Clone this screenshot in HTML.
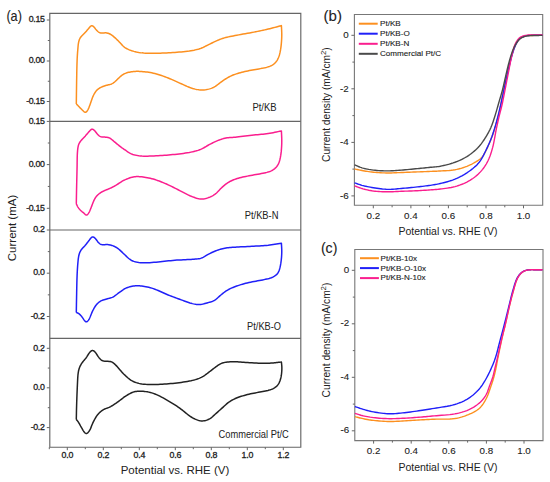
<!DOCTYPE html>
<html><head><meta charset="utf-8"><style>
html,body{margin:0;padding:0;background:#fff;}
body{width:550px;height:482px;overflow:hidden;}
svg{display:block;}
text{font-family:"Liberation Sans",sans-serif;fill:#222;}
.tl{font-size:8.8px;text-anchor:end;stroke:#222;stroke-width:0.3px;letter-spacing:-0.35px;}
.tb{font-size:8.8px;text-anchor:middle;stroke:#222;stroke-width:0.3px;letter-spacing:-0.2px;}
.tl2{font-size:9.8px;text-anchor:end;stroke:#222;stroke-width:0.1px;}
.tb2{font-size:9.8px;text-anchor:middle;stroke:#222;stroke-width:0.1px;}
.ttl{font-size:11.5px;text-anchor:middle;}
.ttl2{font-size:10.5px;text-anchor:middle;}
.ttl3{font-size:10.2px;text-anchor:middle;}
.pl{font-size:14.5px;stroke:#222;stroke-width:0.1px;}
.cal{font-size:10.5px;fill:#222;}
.lg{font-size:8.1px;fill:#222;stroke:#222;stroke-width:0.12px;}
</style></head>
<body><svg width="550" height="482" viewBox="0 0 550 482">
<path d="M49.8,447.2 V13.4 H300.8 V447.2 Z" fill="none" stroke="#666" stroke-width="1.15"/>
<path d="M49.8,121.4 H300.8" stroke="#666" stroke-width="1.15"/>
<path d="M49.8,230.0 H300.8" stroke="#666" stroke-width="1.15"/>
<path d="M49.8,338.4 H300.8" stroke="#666" stroke-width="1.15"/>
<path d="M46.8,20.0 H49.8" stroke="#666" stroke-width="1"/>
<path d="M46.8,61.0 H49.8" stroke="#666" stroke-width="1"/>
<path d="M46.8,101.5 H49.8" stroke="#666" stroke-width="1"/>
<path d="M47.8,40.5 H49.8" stroke="#666" stroke-width="1"/>
<path d="M47.8,81.25 H49.8" stroke="#666" stroke-width="1"/>
<path d="M46.8,121.4 H49.8" stroke="#666" stroke-width="1"/>
<path d="M46.8,164.6 H49.8" stroke="#666" stroke-width="1"/>
<path d="M46.8,208.3 H49.8" stroke="#666" stroke-width="1"/>
<path d="M47.8,143.0 H49.8" stroke="#666" stroke-width="1"/>
<path d="M47.8,186.45 H49.8" stroke="#666" stroke-width="1"/>
<path d="M46.8,230.0 H49.8" stroke="#666" stroke-width="1"/>
<path d="M46.8,273.2 H49.8" stroke="#666" stroke-width="1"/>
<path d="M46.8,316.5 H49.8" stroke="#666" stroke-width="1"/>
<path d="M47.8,251.6 H49.8" stroke="#666" stroke-width="1"/>
<path d="M47.8,294.85 H49.8" stroke="#666" stroke-width="1"/>
<path d="M46.8,348.3 H49.8" stroke="#666" stroke-width="1"/>
<path d="M46.8,387.8 H49.8" stroke="#666" stroke-width="1"/>
<path d="M46.8,427.6 H49.8" stroke="#666" stroke-width="1"/>
<path d="M47.8,368.05 H49.8" stroke="#666" stroke-width="1"/>
<path d="M47.8,407.70000000000005 H49.8" stroke="#666" stroke-width="1"/>
<text x="44.5" y="22.2" class="tl">0.15</text>
<text x="44.5" y="63.2" class="tl">0.00</text>
<text x="44.5" y="103.7" class="tl">-0.15</text>
<text x="44.5" y="123.60000000000001" class="tl">0.15</text>
<text x="44.5" y="166.79999999999998" class="tl">0.00</text>
<text x="44.5" y="210.5" class="tl">-0.15</text>
<text x="44.5" y="232.2" class="tl">0.2</text>
<text x="44.5" y="275.4" class="tl">0.0</text>
<text x="44.5" y="318.7" class="tl">-0.2</text>
<text x="44.5" y="350.5" class="tl">0.2</text>
<text x="44.5" y="390.0" class="tl">0.0</text>
<text x="44.5" y="429.8" class="tl">-0.2</text>
<path d="M67.3,447.2 V450.2" stroke="#666" stroke-width="1"/>
<text x="67.4" y="457.8" class="tb">0.0</text>
<path d="M103.3,447.2 V450.2" stroke="#666" stroke-width="1"/>
<text x="103.4" y="457.8" class="tb">0.2</text>
<path d="M139.3,447.2 V450.2" stroke="#666" stroke-width="1"/>
<text x="139.4" y="457.8" class="tb">0.4</text>
<path d="M175.3,447.2 V450.2" stroke="#666" stroke-width="1"/>
<text x="175.4" y="457.8" class="tb">0.6</text>
<path d="M211.3,447.2 V450.2" stroke="#666" stroke-width="1"/>
<text x="211.4" y="457.8" class="tb">0.8</text>
<path d="M247.3,447.2 V450.2" stroke="#666" stroke-width="1"/>
<text x="247.4" y="457.8" class="tb">1.0</text>
<path d="M283.3,447.2 V450.2" stroke="#666" stroke-width="1"/>
<text x="283.4" y="457.8" class="tb">1.2</text>
<path d="M49.3,447.2 V449.2" stroke="#666" stroke-width="1"/>
<path d="M85.3,447.2 V449.2" stroke="#666" stroke-width="1"/>
<path d="M121.3,447.2 V449.2" stroke="#666" stroke-width="1"/>
<path d="M157.3,447.2 V449.2" stroke="#666" stroke-width="1"/>
<path d="M193.3,447.2 V449.2" stroke="#666" stroke-width="1"/>
<path d="M229.3,447.2 V449.2" stroke="#666" stroke-width="1"/>
<path d="M265.3,447.2 V449.2" stroke="#666" stroke-width="1"/>
<text x="175" y="474.3" class="ttl">Potential vs. RHE (V)</text>
<text transform="translate(15.6,228) rotate(-90)" class="ttl">Current (mA)</text>
<text x="6.4" y="21.3" class="pl" textLength="15.5" lengthAdjust="spacingAndGlyphs">(a)</text>
<text x="252.4" y="111.1" class="cal" textLength="24.2" lengthAdjust="spacingAndGlyphs">Pt/KB</text>
<text x="244.7" y="218.9" class="cal" textLength="33.8" lengthAdjust="spacingAndGlyphs">Pt/KB-N</text>
<text x="247.1" y="329.9" class="cal" textLength="33.9" lengthAdjust="spacingAndGlyphs">Pt/KB-O</text>
<text x="218.5" y="437.6" class="cal" textLength="70.3" lengthAdjust="spacingAndGlyphs">Commercial Pt/C</text>
<path d="M76.30,103.90 L76.34,101.27 L76.37,98.65 L76.41,96.02 L76.44,93.39 L76.48,90.75 L76.52,88.09 L76.56,85.39 L76.60,82.64 L76.65,79.81 L76.70,76.91 L76.75,73.98 L76.80,71.06 L76.87,68.20 L76.94,65.46 L77.01,62.93 L77.10,60.67 L77.18,58.68 L77.27,56.92 L77.37,55.33 L77.47,53.84 L77.57,52.42 L77.67,51.08 L77.78,49.82 L77.88,48.66 L77.97,47.61 L78.05,46.66 L78.14,45.77 L78.22,44.93 L78.32,44.12 L78.43,43.34 L78.56,42.61 L78.71,41.91 L78.87,41.27 L79.04,40.67 L79.22,40.10 L79.41,39.56 L79.63,39.03 L79.88,38.51 L80.16,38.00 L80.49,37.49 L80.85,36.99 L81.27,36.49 L81.72,36.01 L82.20,35.52 L82.70,35.04 L83.20,34.56 L83.70,34.07 L84.19,33.57 L84.68,33.05 L85.16,32.52 L85.64,31.99 L86.12,31.44 L86.59,30.90 L87.06,30.36 L87.52,29.83 L87.97,29.30 L88.41,28.77 L88.83,28.23 L89.25,27.70 L89.67,27.20 L90.08,26.74 L90.47,26.35 L90.86,26.06 L91.21,25.87 L91.54,25.77 L91.85,25.76 L92.13,25.80 L92.41,25.89 L92.69,26.02 L92.97,26.18 L93.25,26.37 L93.55,26.61 L93.87,26.89 L94.19,27.24 L94.52,27.63 L94.86,28.05 L95.19,28.49 L95.52,28.93 L95.86,29.35 L96.19,29.75 L96.52,30.13 L96.85,30.49 L97.19,30.83 L97.52,31.16 L97.86,31.47 L98.20,31.76 L98.54,32.01 L98.88,32.24 L99.21,32.42 L99.54,32.58 L99.87,32.71 L100.20,32.81 L100.54,32.90 L100.90,32.97 L101.28,33.03 L101.70,33.06 L102.16,33.06 L102.66,33.04 L103.20,33.00 L103.75,32.94 L104.31,32.88 L104.87,32.85 L105.44,32.84 L106.00,32.87 L106.56,32.93 L107.12,33.04 L107.67,33.17 L108.23,33.33 L108.78,33.52 L109.32,33.74 L109.87,33.98 L110.41,34.26 L110.95,34.57 L111.49,34.92 L112.03,35.29 L112.56,35.70 L113.09,36.13 L113.64,36.59 L114.20,37.08 L114.80,37.61 L115.43,38.18 L116.09,38.80 L116.77,39.46 L117.47,40.14 L118.16,40.84 L118.84,41.52 L119.49,42.19 L120.11,42.83 L120.69,43.45 L121.24,44.04 L121.77,44.62 L122.29,45.19 L122.81,45.74 L123.37,46.27 L123.97,46.79 L124.63,47.30 L125.36,47.79 L126.14,48.26 L126.98,48.72 L127.85,49.16 L128.76,49.57 L129.71,49.96 L130.69,50.33 L131.72,50.70 L132.81,51.05 L133.95,51.38 L135.14,51.69 L136.36,51.98 L137.64,52.24 L138.97,52.47 L140.41,52.68 L141.98,52.87 L143.72,53.02 L145.60,53.13 L147.60,53.21 L149.68,53.25 L151.80,53.26 L153.93,53.25 L156.06,53.22 L158.17,53.19 L160.26,53.14 L162.35,53.07 L164.43,53.00 L166.50,52.90 L168.58,52.79 L170.66,52.67 L172.74,52.53 L174.84,52.39 L176.95,52.23 L179.07,52.06 L181.20,51.88 L183.32,51.68 L185.40,51.46 L187.40,51.23 L189.29,50.98 L191.02,50.71 L192.60,50.44 L194.04,50.17 L195.38,49.88 L196.66,49.58 L197.88,49.26 L199.06,48.92 L200.17,48.57 L201.22,48.20 L202.18,47.82 L203.08,47.44 L203.92,47.04 L204.73,46.62 L205.54,46.20 L206.37,45.76 L207.24,45.31 L208.17,44.83 L209.18,44.33 L210.26,43.80 L211.38,43.26 L212.53,42.71 L213.68,42.17 L214.81,41.64 L215.90,41.14 L216.94,40.68 L217.90,40.26 L218.81,39.88 L219.67,39.51 L220.53,39.17 L221.40,38.84 L222.31,38.52 L223.30,38.19 L224.41,37.86 L225.65,37.53 L227.01,37.20 L228.47,36.87 L230.00,36.55 L231.59,36.24 L233.24,35.92 L234.97,35.59 L236.81,35.25 L238.77,34.88 L240.85,34.50 L243.02,34.11 L245.24,33.71 L247.47,33.31 L249.68,32.91 L251.82,32.52 L253.87,32.13 L255.82,31.75 L257.68,31.38 L259.49,31.01 L261.26,30.64 L263.01,30.26 L264.74,29.88 L266.46,29.49 L268.16,29.09 L269.85,28.67 L271.52,28.25 L273.18,27.82 L274.83,27.38 L276.47,26.94 L278.11,26.49 L279.76,26.05 L281.40,25.60 L281.40,25.60 L281.47,26.91 L281.54,28.21 L281.61,29.51 L281.67,30.83 L281.72,32.15 L281.76,33.51 L281.77,34.93 L281.75,36.44 L281.70,38.06 L281.61,39.76 L281.50,41.53 L281.35,43.33 L281.18,45.11 L280.98,46.84 L280.75,48.48 L280.51,49.99 L280.25,51.37 L279.99,52.64 L279.71,53.83 L279.41,54.96 L279.07,56.04 L278.71,57.07 L278.31,58.05 L277.88,58.96 L277.43,59.79 L276.95,60.57 L276.45,61.30 L275.92,61.98 L275.35,62.63 L274.75,63.24 L274.10,63.81 L273.41,64.35 L272.68,64.84 L271.89,65.30 L271.06,65.71 L270.19,66.09 L269.28,66.44 L268.31,66.77 L267.26,67.10 L266.11,67.42 L264.84,67.74 L263.46,68.05 L261.98,68.34 L260.44,68.62 L258.86,68.89 L257.28,69.16 L255.69,69.43 L254.11,69.72 L252.54,70.01 L250.97,70.31 L249.40,70.61 L247.84,70.93 L246.29,71.25 L244.76,71.59 L243.26,71.94 L241.80,72.31 L240.38,72.69 L239.00,73.07 L237.66,73.48 L236.33,73.90 L235.03,74.34 L233.74,74.81 L232.49,75.31 L231.26,75.85 L230.06,76.42 L228.89,77.03 L227.74,77.67 L226.62,78.33 L225.52,79.01 L224.44,79.70 L223.40,80.39 L222.39,81.08 L221.43,81.78 L220.50,82.47 L219.60,83.17 L218.73,83.86 L217.86,84.53 L217.02,85.16 L216.20,85.75 L215.41,86.27 L214.66,86.73 L213.94,87.13 L213.25,87.48 L212.56,87.81 L211.86,88.11 L211.14,88.39 L210.37,88.65 L209.55,88.90 L208.66,89.14 L207.71,89.36 L206.71,89.57 L205.68,89.74 L204.63,89.88 L203.55,89.97 L202.44,90.02 L201.31,90.01 L200.14,89.94 L198.94,89.81 L197.71,89.63 L196.46,89.40 L195.20,89.12 L193.93,88.79 L192.63,88.42 L191.30,88.00 L189.93,87.52 L188.53,86.98 L187.10,86.40 L185.66,85.77 L184.21,85.11 L182.74,84.44 L181.24,83.76 L179.70,83.06 L178.12,82.35 L176.51,81.62 L174.87,80.89 L173.21,80.15 L171.54,79.41 L169.86,78.70 L168.19,78.01 L166.51,77.35 L164.84,76.72 L163.17,76.12 L161.50,75.54 L159.83,75.00 L158.17,74.48 L156.52,74.00 L154.89,73.57 L153.30,73.19 L151.75,72.85 L150.24,72.56 L148.75,72.32 L147.28,72.10 L145.83,71.92 L144.42,71.77 L143.07,71.64 L141.80,71.54 L140.60,71.46 L139.47,71.40 L138.40,71.37 L137.35,71.35 L136.33,71.36 L135.32,71.39 L134.32,71.45 L133.33,71.54 L132.34,71.65 L131.37,71.79 L130.41,71.95 L129.47,72.14 L128.55,72.35 L127.66,72.58 L126.83,72.83 L126.05,73.10 L125.35,73.37 L124.71,73.65 L124.10,73.95 L123.53,74.26 L122.97,74.59 L122.40,74.96 L121.81,75.38 L121.19,75.85 L120.54,76.39 L119.85,77.01 L119.13,77.68 L118.42,78.37 L117.71,79.08 L117.01,79.75 L116.35,80.39 L115.72,80.95 L115.15,81.46 L114.62,81.91 L114.12,82.31 L113.62,82.69 L113.13,83.05 L112.62,83.38 L112.10,83.68 L111.55,83.95 L110.97,84.18 L110.37,84.38 L109.75,84.55 L109.11,84.71 L108.46,84.85 L107.80,85.00 L107.14,85.16 L106.46,85.34 L105.76,85.55 L105.04,85.77 L104.32,86.01 L103.60,86.26 L102.88,86.52 L102.18,86.80 L101.51,87.10 L100.88,87.40 L100.29,87.70 L99.74,88.01 L99.21,88.33 L98.70,88.67 L98.21,89.03 L97.73,89.41 L97.25,89.83 L96.79,90.30 L96.33,90.81 L95.87,91.37 L95.43,91.98 L95.00,92.62 L94.58,93.29 L94.18,93.99 L93.78,94.74 L93.39,95.54 L93.00,96.40 L92.62,97.32 L92.25,98.28 L91.90,99.28 L91.55,100.29 L91.20,101.29 L90.85,102.28 L90.51,103.26 L90.17,104.21 L89.83,105.15 L89.49,106.08 L89.15,106.98 L88.80,107.85 L88.45,108.65 L88.10,109.37 L87.77,109.98 L87.46,110.50 L87.16,110.95 L86.88,111.33 L86.59,111.66 L86.30,111.94 L86.00,112.15 L85.69,112.29 L85.37,112.34 L85.04,112.29 L84.69,112.15 L84.34,111.92 L83.98,111.63 L83.61,111.30 L83.24,110.93 L82.86,110.56 L82.47,110.18 L82.06,109.79 L81.65,109.38 L81.23,108.97 L80.80,108.54 L80.38,108.11 L79.95,107.67 L79.53,107.24 L79.10,106.80 L79.10,106.80 L78.75,106.44 L78.40,106.07 L78.05,105.71 L77.70,105.35 L77.35,104.99 L77.00,104.63 L76.65,104.26 L76.30,103.90" fill="none" stroke="#fc9020" stroke-width="1.5" stroke-linejoin="round"/>
<path d="M76.30,203.80 L76.34,201.83 L76.37,199.86 L76.41,197.89 L76.44,195.91 L76.48,193.91 L76.52,191.86 L76.56,189.71 L76.61,187.44 L76.66,185.01 L76.72,182.45 L76.78,179.78 L76.85,177.08 L76.91,174.38 L76.97,171.76 L77.03,169.26 L77.08,166.94 L77.11,164.80 L77.14,162.81 L77.16,160.93 L77.19,159.14 L77.22,157.41 L77.27,155.77 L77.33,154.24 L77.41,152.84 L77.50,151.59 L77.59,150.45 L77.70,149.40 L77.82,148.42 L77.96,147.49 L78.12,146.62 L78.30,145.82 L78.49,145.12 L78.69,144.51 L78.90,143.98 L79.11,143.50 L79.34,143.06 L79.59,142.64 L79.86,142.22 L80.15,141.79 L80.49,141.34 L80.87,140.86 L81.29,140.37 L81.74,139.87 L82.22,139.36 L82.71,138.85 L83.21,138.33 L83.70,137.81 L84.19,137.28 L84.67,136.74 L85.15,136.20 L85.62,135.64 L86.10,135.09 L86.57,134.53 L87.04,133.98 L87.52,133.43 L88.00,132.88 L88.48,132.32 L88.95,131.76 L89.43,131.20 L89.91,130.66 L90.39,130.17 L90.85,129.77 L91.29,129.47 L91.70,129.29 L92.06,129.21 L92.40,129.21 L92.71,129.29 L93.02,129.42 L93.32,129.59 L93.62,129.79 L93.93,130.03 L94.26,130.32 L94.62,130.66 L94.98,131.07 L95.36,131.52 L95.74,132.01 L96.12,132.51 L96.51,133.01 L96.90,133.49 L97.29,133.94 L97.67,134.37 L98.05,134.77 L98.44,135.15 L98.83,135.51 L99.23,135.84 L99.65,136.14 L100.09,136.40 L100.55,136.62 L101.04,136.78 L101.55,136.89 L102.09,136.97 L102.64,137.01 L103.21,137.03 L103.77,137.05 L104.33,137.08 L104.90,137.11 L105.46,137.16 L106.01,137.20 L106.57,137.26 L107.13,137.32 L107.68,137.41 L108.22,137.53 L108.77,137.69 L109.31,137.90 L109.85,138.17 L110.38,138.49 L110.91,138.86 L111.44,139.27 L111.97,139.71 L112.52,140.18 L113.11,140.68 L113.76,141.22 L114.46,141.80 L115.23,142.44 L116.04,143.11 L116.88,143.80 L117.71,144.49 L118.54,145.16 L119.33,145.79 L120.07,146.37 L120.75,146.90 L121.39,147.37 L121.99,147.82 L122.59,148.24 L123.18,148.66 L123.79,149.08 L124.42,149.52 L125.10,149.98 L125.81,150.48 L126.56,151.01 L127.33,151.55 L128.14,152.10 L128.97,152.63 L129.85,153.14 L130.77,153.61 L131.75,154.05 L132.81,154.44 L133.93,154.79 L135.11,155.09 L136.33,155.35 L137.61,155.58 L138.96,155.77 L140.40,155.93 L141.98,156.05 L143.72,156.13 L145.60,156.17 L147.61,156.16 L149.68,156.11 L151.80,156.03 L153.93,155.93 L156.06,155.82 L158.17,155.70 L160.26,155.57 L162.35,155.44 L164.43,155.30 L166.50,155.15 L168.58,154.98 L170.66,154.79 L172.74,154.59 L174.84,154.38 L176.95,154.15 L179.08,153.91 L181.21,153.66 L183.32,153.39 L185.40,153.09 L187.40,152.78 L189.29,152.46 L191.02,152.12 L192.60,151.79 L194.04,151.44 L195.39,151.10 L196.66,150.73 L197.89,150.35 L199.06,149.95 L200.18,149.53 L201.22,149.10 L202.18,148.66 L203.08,148.21 L203.92,147.74 L204.73,147.26 L205.54,146.77 L206.36,146.28 L207.23,145.77 L208.16,145.24 L209.16,144.70 L210.22,144.13 L211.33,143.55 L212.46,142.97 L213.61,142.41 L214.77,141.86 L215.92,141.34 L217.05,140.86 L218.16,140.41 L219.26,139.99 L220.35,139.60 L221.44,139.23 L222.54,138.89 L223.66,138.58 L224.80,138.30 L225.98,138.06 L227.19,137.86 L228.43,137.70 L229.71,137.57 L231.01,137.47 L232.35,137.38 L233.75,137.29 L235.27,137.17 L236.94,137.02 L238.79,136.82 L240.81,136.60 L242.95,136.34 L245.17,136.07 L247.42,135.80 L249.64,135.53 L251.79,135.28 L253.85,135.05 L255.81,134.85 L257.68,134.67 L259.49,134.51 L261.26,134.35 L263.00,134.18 L264.74,134.00 L266.46,133.79 L268.16,133.55 L269.85,133.28 L271.52,132.98 L273.18,132.66 L274.83,132.32 L276.47,131.97 L278.11,131.61 L279.76,131.25 L281.40,130.90 L281.40,130.90 L281.47,132.39 L281.54,133.87 L281.61,135.36 L281.68,136.85 L281.73,138.35 L281.76,139.88 L281.77,141.44 L281.75,143.06 L281.70,144.75 L281.62,146.51 L281.50,148.30 L281.36,150.11 L281.19,151.88 L280.98,153.59 L280.76,155.19 L280.51,156.65 L280.26,157.95 L280.00,159.13 L279.73,160.22 L279.43,161.25 L279.10,162.23 L278.72,163.17 L278.30,164.07 L277.83,164.92 L277.32,165.73 L276.75,166.49 L276.15,167.21 L275.50,167.90 L274.81,168.55 L274.09,169.15 L273.33,169.71 L272.52,170.23 L271.68,170.69 L270.79,171.10 L269.86,171.46 L268.89,171.78 L267.88,172.08 L266.80,172.37 L265.64,172.65 L264.34,172.95 L262.89,173.27 L261.30,173.59 L259.59,173.92 L257.82,174.23 L256.01,174.55 L254.21,174.86 L252.44,175.18 L250.72,175.49 L249.04,175.81 L247.41,176.12 L245.81,176.44 L244.24,176.76 L242.69,177.10 L241.19,177.45 L239.75,177.82 L238.39,178.19 L237.11,178.58 L235.90,178.97 L234.75,179.37 L233.64,179.79 L232.55,180.24 L231.49,180.71 L230.46,181.21 L229.46,181.74 L228.49,182.31 L227.56,182.91 L226.64,183.53 L225.75,184.19 L224.88,184.87 L224.01,185.57 L223.14,186.32 L222.27,187.10 L221.40,187.93 L220.52,188.81 L219.64,189.73 L218.77,190.65 L217.91,191.56 L217.05,192.42 L216.22,193.21 L215.43,193.89 L214.67,194.48 L213.96,194.99 L213.26,195.43 L212.57,195.83 L211.87,196.20 L211.15,196.55 L210.38,196.89 L209.56,197.23 L208.67,197.56 L207.72,197.90 L206.72,198.22 L205.69,198.51 L204.63,198.75 L203.55,198.93 L202.45,199.03 L201.31,199.04 L200.14,198.96 L198.94,198.78 L197.71,198.52 L196.46,198.18 L195.20,197.78 L193.93,197.33 L192.63,196.84 L191.30,196.31 L189.93,195.72 L188.53,195.08 L187.10,194.39 L185.66,193.66 L184.21,192.91 L182.74,192.14 L181.24,191.35 L179.70,190.56 L178.13,189.75 L176.51,188.92 L174.87,188.08 L173.21,187.24 L171.54,186.41 L169.87,185.60 L168.19,184.81 L166.52,184.05 L164.84,183.32 L163.17,182.62 L161.50,181.94 L159.83,181.29 L158.17,180.67 L156.52,180.10 L154.90,179.57 L153.31,179.09 L151.76,178.67 L150.24,178.29 L148.75,177.96 L147.28,177.66 L145.84,177.41 L144.43,177.19 L143.08,177.00 L141.80,176.85 L140.61,176.74 L139.49,176.65 L138.41,176.59 L137.37,176.57 L136.34,176.58 L135.32,176.64 L134.29,176.74 L133.24,176.91 L132.17,177.15 L131.07,177.45 L129.97,177.81 L128.89,178.20 L127.85,178.61 L126.89,179.00 L126.05,179.35 L125.35,179.65 L124.80,179.88 L124.38,180.07 L124.03,180.22 L123.73,180.37 L123.43,180.51 L123.10,180.69 L122.70,180.91 L122.21,181.20 L121.60,181.58 L120.88,182.04 L120.06,182.58 L119.19,183.16 L118.30,183.75 L117.41,184.34 L116.54,184.89 L115.71,185.40 L114.93,185.85 L114.19,186.27 L113.47,186.65 L112.76,187.01 L112.05,187.37 L111.33,187.72 L110.59,188.06 L109.83,188.40 L109.02,188.75 L108.19,189.09 L107.34,189.43 L106.47,189.76 L105.62,190.11 L104.77,190.46 L103.96,190.83 L103.18,191.21 L102.43,191.60 L101.72,192.00 L101.03,192.41 L100.36,192.84 L99.72,193.28 L99.10,193.74 L98.52,194.22 L97.97,194.71 L97.45,195.22 L96.97,195.74 L96.51,196.27 L96.08,196.82 L95.67,197.39 L95.27,198.00 L94.88,198.63 L94.49,199.32 L94.12,200.06 L93.75,200.86 L93.39,201.69 L93.05,202.56 L92.71,203.44 L92.37,204.33 L92.03,205.22 L91.69,206.11 L91.35,207.01 L91.00,207.91 L90.65,208.82 L90.29,209.71 L89.93,210.56 L89.57,211.36 L89.22,212.07 L88.88,212.69 L88.56,213.20 L88.26,213.65 L87.97,214.03 L87.68,214.36 L87.39,214.64 L87.10,214.85 L86.79,214.99 L86.48,215.03 L86.15,214.98 L85.82,214.83 L85.47,214.59 L85.12,214.30 L84.77,213.96 L84.41,213.61 L84.05,213.27 L83.70,212.94 L83.33,212.64 L82.97,212.35 L82.60,212.07 L82.24,211.79 L81.87,211.50 L81.51,211.20 L81.15,210.89 L80.79,210.55 L80.42,210.18 L80.05,209.79 L79.69,209.38 L79.33,208.96 L78.98,208.53 L78.65,208.09 L78.34,207.65 L78.05,207.22 L77.78,206.79 L77.54,206.36 L77.32,205.94 L77.11,205.51 L76.90,205.08 L76.70,204.66 L76.50,204.23 L76.30,203.80" fill="none" stroke="#fa1e8e" stroke-width="1.5" stroke-linejoin="round"/>
<path d="M76.30,312.40 L76.34,310.35 L76.37,308.30 L76.41,306.25 L76.44,304.20 L76.48,302.12 L76.52,300.00 L76.56,297.80 L76.61,295.49 L76.65,293.05 L76.70,290.49 L76.75,287.86 L76.81,285.19 L76.87,282.55 L76.94,280.00 L77.02,277.61 L77.10,275.43 L77.18,273.47 L77.27,271.69 L77.36,270.05 L77.46,268.49 L77.56,266.99 L77.66,265.56 L77.77,264.20 L77.88,262.94 L77.99,261.78 L78.09,260.70 L78.19,259.68 L78.31,258.71 L78.43,257.78 L78.57,256.88 L78.73,256.03 L78.91,255.24 L79.10,254.50 L79.30,253.82 L79.52,253.18 L79.75,252.56 L80.01,251.96 L80.30,251.36 L80.63,250.77 L81.00,250.17 L81.44,249.56 L81.92,248.95 L82.45,248.34 L83.01,247.73 L83.58,247.12 L84.16,246.52 L84.72,245.91 L85.25,245.30 L85.77,244.68 L86.27,244.06 L86.75,243.43 L87.23,242.81 L87.70,242.20 L88.16,241.59 L88.62,241.00 L89.06,240.43 L89.50,239.86 L89.92,239.31 L90.33,238.77 L90.75,238.26 L91.16,237.80 L91.56,237.43 L91.96,237.15 L92.35,236.98 L92.71,236.92 L93.07,236.96 L93.41,237.07 L93.76,237.23 L94.10,237.44 L94.44,237.69 L94.79,237.99 L95.16,238.33 L95.54,238.74 L95.94,239.21 L96.34,239.74 L96.74,240.30 L97.15,240.87 L97.56,241.42 L97.96,241.93 L98.36,242.39 L98.76,242.80 L99.14,243.16 L99.53,243.48 L99.92,243.78 L100.32,244.04 L100.75,244.28 L101.21,244.47 L101.72,244.62 L102.29,244.71 L102.91,244.75 L103.57,244.74 L104.26,244.69 L104.97,244.63 L105.68,244.58 L106.38,244.55 L107.08,244.56 L107.77,244.61 L108.46,244.68 L109.14,244.78 L109.82,244.90 L110.49,245.05 L111.17,245.22 L111.84,245.42 L112.52,245.65 L113.20,245.91 L113.89,246.20 L114.58,246.51 L115.27,246.86 L115.95,247.24 L116.65,247.66 L117.35,248.12 L118.09,248.64 L118.85,249.23 L119.63,249.89 L120.43,250.61 L121.23,251.36 L122.04,252.14 L122.86,252.93 L123.68,253.72 L124.51,254.52 L125.35,255.32 L126.19,256.14 L127.04,256.95 L127.91,257.75 L128.79,258.52 L129.72,259.24 L130.68,259.90 L131.71,260.48 L132.79,260.98 L133.92,261.40 L135.10,261.75 L136.33,262.04 L137.61,262.28 L138.96,262.47 L140.40,262.63 L141.98,262.74 L143.72,262.80 L145.60,262.81 L147.61,262.76 L149.68,262.66 L151.80,262.52 L153.93,262.35 L156.06,262.17 L158.17,261.98 L160.26,261.78 L162.35,261.57 L164.42,261.34 L166.50,261.10 L168.58,260.86 L170.65,260.64 L172.74,260.43 L174.83,260.25 L176.94,260.10 L179.07,259.98 L181.19,259.88 L183.31,259.79 L185.39,259.71 L187.39,259.61 L189.28,259.52 L191.02,259.42 L192.59,259.32 L194.04,259.22 L195.38,259.12 L196.66,259.00 L197.89,258.85 L199.07,258.66 L200.18,258.42 L201.23,258.12 L202.19,257.76 L203.08,257.35 L203.92,256.90 L204.74,256.42 L205.54,255.92 L206.37,255.41 L207.23,254.89 L208.16,254.37 L209.16,253.84 L210.22,253.31 L211.32,252.78 L212.46,252.25 L213.61,251.74 L214.77,251.25 L215.92,250.79 L217.05,250.36 L218.16,249.98 L219.26,249.62 L220.35,249.30 L221.45,249.00 L222.55,248.72 L223.66,248.47 L224.81,248.24 L225.98,248.04 L227.19,247.85 L228.44,247.70 L229.71,247.57 L231.01,247.46 L232.35,247.36 L233.75,247.27 L235.27,247.18 L236.94,247.08 L238.79,246.97 L240.81,246.86 L242.95,246.75 L245.17,246.64 L247.42,246.53 L249.64,246.42 L251.79,246.32 L253.85,246.21 L255.81,246.11 L257.68,246.02 L259.49,245.92 L261.26,245.82 L263.00,245.71 L264.74,245.58 L266.46,245.43 L268.16,245.26 L269.85,245.05 L271.52,244.83 L273.18,244.58 L274.83,244.31 L276.47,244.04 L278.11,243.76 L279.76,243.48 L281.40,243.20 L281.40,243.20 L281.47,244.40 L281.54,245.59 L281.61,246.79 L281.67,247.99 L281.73,249.21 L281.76,250.45 L281.77,251.73 L281.75,253.09 L281.69,254.53 L281.61,256.04 L281.50,257.60 L281.35,259.18 L281.18,260.74 L280.97,262.26 L280.75,263.71 L280.51,265.05 L280.26,266.28 L280.01,267.43 L279.74,268.50 L279.45,269.53 L279.12,270.50 L278.74,271.42 L278.32,272.27 L277.84,273.05 L277.32,273.75 L276.76,274.38 L276.16,274.96 L275.51,275.48 L274.82,275.97 L274.08,276.43 L273.28,276.88 L272.40,277.30 L271.43,277.70 L270.36,278.08 L269.22,278.43 L268.03,278.76 L266.78,279.05 L265.48,279.34 L264.11,279.63 L262.65,279.93 L261.09,280.24 L259.44,280.55 L257.71,280.86 L255.93,281.17 L254.14,281.48 L252.36,281.81 L250.61,282.16 L248.91,282.53 L247.25,282.92 L245.63,283.33 L244.05,283.75 L242.49,284.20 L240.96,284.65 L239.47,285.12 L238.04,285.60 L236.68,286.07 L235.40,286.53 L234.18,286.99 L233.01,287.46 L231.89,287.93 L230.79,288.42 L229.72,288.93 L228.68,289.47 L227.68,290.03 L226.71,290.62 L225.78,291.23 L224.88,291.86 L224.00,292.51 L223.14,293.18 L222.29,293.85 L221.46,294.53 L220.64,295.21 L219.84,295.90 L219.05,296.60 L218.28,297.30 L217.52,298.00 L216.75,298.67 L215.98,299.29 L215.20,299.86 L214.42,300.36 L213.64,300.78 L212.86,301.13 L212.08,301.43 L211.28,301.69 L210.47,301.93 L209.65,302.16 L208.79,302.40 L207.89,302.66 L206.95,302.94 L205.97,303.24 L204.95,303.54 L203.91,303.84 L202.86,304.11 L201.81,304.33 L200.76,304.49 L199.72,304.58 L198.69,304.61 L197.66,304.57 L196.64,304.47 L195.61,304.32 L194.57,304.12 L193.50,303.89 L192.38,303.62 L191.19,303.30 L189.92,302.93 L188.57,302.50 L187.17,302.03 L185.72,301.52 L184.26,300.98 L182.77,300.42 L181.25,299.85 L179.71,299.28 L178.12,298.69 L176.50,298.09 L174.85,297.49 L173.19,296.87 L171.51,296.24 L169.84,295.59 L168.17,294.93 L166.50,294.25 L164.83,293.53 L163.15,292.79 L161.48,292.03 L159.82,291.28 L158.16,290.54 L156.51,289.84 L154.89,289.20 L153.31,288.63 L151.76,288.13 L150.25,287.70 L148.76,287.32 L147.29,286.98 L145.84,286.69 L144.43,286.44 L143.08,286.23 L141.80,286.07 L140.61,285.94 L139.49,285.86 L138.42,285.80 L137.38,285.78 L136.35,285.79 L135.32,285.85 L134.29,285.94 L133.23,286.09 L132.13,286.28 L131.02,286.53 L129.89,286.82 L128.78,287.14 L127.73,287.47 L126.79,287.80 L126.00,288.10 L125.39,288.36 L124.96,288.56 L124.66,288.72 L124.45,288.85 L124.28,288.97 L124.11,289.10 L123.92,289.24 L123.67,289.43 L123.33,289.68 L122.88,290.00 L122.31,290.40 L121.65,290.87 L120.93,291.37 L120.18,291.90 L119.42,292.43 L118.68,292.96 L117.97,293.48 L117.29,293.98 L116.63,294.48 L115.99,294.98 L115.36,295.46 L114.73,295.93 L114.09,296.37 L113.46,296.76 L112.82,297.10 L112.18,297.39 L111.54,297.64 L110.90,297.84 L110.26,298.02 L109.60,298.19 L108.93,298.36 L108.23,298.54 L107.49,298.74 L106.70,298.95 L105.87,299.17 L105.02,299.41 L104.15,299.66 L103.29,299.94 L102.45,300.24 L101.65,300.57 L100.90,300.94 L100.21,301.34 L99.56,301.77 L98.95,302.22 L98.37,302.71 L97.80,303.22 L97.26,303.78 L96.72,304.37 L96.18,305.02 L95.64,305.74 L95.11,306.51 L94.60,307.33 L94.09,308.19 L93.61,309.07 L93.13,309.98 L92.67,310.92 L92.21,311.88 L91.77,312.88 L91.35,313.92 L90.93,314.98 L90.52,316.04 L90.11,317.06 L89.70,318.00 L89.28,318.83 L88.88,319.52 L88.50,320.09 L88.14,320.56 L87.79,320.95 L87.43,321.27 L87.07,321.53 L86.71,321.71 L86.32,321.78 L85.91,321.72 L85.46,321.48 L84.99,321.08 L84.49,320.52 L83.99,319.85 L83.49,319.12 L83.00,318.38 L82.52,317.69 L82.08,317.08 L81.67,316.54 L81.28,316.06 L80.91,315.63 L80.55,315.22 L80.20,314.84 L79.84,314.49 L79.48,314.16 L79.12,313.87 L78.77,313.62 L78.42,313.41 L78.07,313.21 L77.71,313.04 L77.36,312.88 L77.01,312.72 L76.65,312.56 L76.30,312.40" fill="none" stroke="#2020f8" stroke-width="1.5" stroke-linejoin="round"/>
<path d="M76.30,419.50 L76.33,417.83 L76.37,416.15 L76.40,414.48 L76.43,412.79 L76.47,411.08 L76.51,409.29 L76.56,407.39 L76.62,405.31 L76.69,403.03 L76.77,400.56 L76.86,397.96 L76.96,395.29 L77.06,392.63 L77.17,390.06 L77.28,387.64 L77.37,385.43 L77.46,383.44 L77.55,381.63 L77.63,379.96 L77.71,378.38 L77.81,376.88 L77.92,375.48 L78.05,374.20 L78.19,373.08 L78.33,372.11 L78.48,371.27 L78.64,370.53 L78.81,369.85 L78.98,369.19 L79.18,368.56 L79.39,367.94 L79.62,367.33 L79.86,366.75 L80.12,366.18 L80.39,365.62 L80.69,365.07 L80.99,364.53 L81.33,363.98 L81.69,363.41 L82.10,362.82 L82.56,362.20 L83.06,361.55 L83.60,360.89 L84.16,360.21 L84.73,359.54 L85.29,358.86 L85.82,358.19 L86.32,357.52 L86.78,356.85 L87.21,356.18 L87.62,355.52 L88.02,354.87 L88.40,354.24 L88.79,353.65 L89.18,353.11 L89.55,352.62 L89.92,352.20 L90.28,351.82 L90.63,351.48 L90.98,351.18 L91.33,350.92 L91.69,350.72 L92.04,350.58 L92.39,350.52 L92.73,350.53 L93.08,350.61 L93.42,350.75 L93.76,350.94 L94.10,351.17 L94.44,351.45 L94.80,351.77 L95.16,352.15 L95.54,352.60 L95.94,353.13 L96.34,353.71 L96.74,354.34 L97.14,354.98 L97.56,355.63 L97.98,356.25 L98.41,356.85 L98.84,357.42 L99.28,357.97 L99.74,358.50 L100.20,359.01 L100.68,359.48 L101.17,359.91 L101.69,360.28 L102.23,360.58 L102.79,360.81 L103.38,360.97 L103.98,361.09 L104.60,361.15 L105.23,361.20 L105.85,361.23 L106.46,361.27 L107.06,361.30 L107.65,361.33 L108.22,361.36 L108.78,361.40 L109.34,361.43 L109.89,361.49 L110.43,361.58 L110.97,361.71 L111.51,361.90 L112.05,362.15 L112.59,362.45 L113.13,362.81 L113.66,363.21 L114.19,363.65 L114.75,364.14 L115.34,364.70 L115.99,365.35 L116.72,366.11 L117.51,366.98 L118.35,367.94 L119.20,368.94 L120.03,369.93 L120.82,370.86 L121.53,371.68 L122.13,372.37 L122.63,372.91 L123.03,373.33 L123.37,373.68 L123.68,373.99 L124.00,374.29 L124.35,374.61 L124.75,374.97 L125.23,375.42 L125.80,375.96 L126.47,376.58 L127.22,377.26 L128.02,377.97 L128.88,378.68 L129.78,379.38 L130.72,380.03 L131.72,380.64 L132.79,381.21 L133.91,381.73 L135.09,382.20 L136.31,382.63 L137.59,383.02 L138.94,383.37 L140.39,383.68 L141.97,383.95 L143.71,384.16 L145.59,384.33 L147.60,384.44 L149.67,384.49 L151.79,384.50 L153.93,384.48 L156.05,384.44 L158.17,384.38 L160.26,384.30 L162.35,384.21 L164.43,384.09 L166.50,383.95 L168.58,383.78 L170.66,383.60 L172.74,383.40 L174.84,383.18 L176.95,382.94 L179.08,382.68 L181.21,382.41 L183.33,382.11 L185.40,381.79 L187.41,381.45 L189.29,381.09 L191.03,380.73 L192.61,380.36 L194.05,379.99 L195.39,379.61 L196.67,379.21 L197.90,378.79 L199.07,378.35 L200.19,377.88 L201.24,377.39 L202.21,376.89 L203.11,376.36 L203.97,375.82 L204.79,375.26 L205.60,374.68 L206.40,374.09 L207.22,373.48 L208.06,372.85 L208.93,372.19 L209.82,371.50 L210.72,370.80 L211.63,370.09 L212.55,369.38 L213.46,368.68 L214.36,368.00 L215.25,367.34 L216.12,366.70 L216.98,366.08 L217.83,365.48 L218.69,364.90 L219.56,364.35 L220.47,363.84 L221.44,363.39 L222.48,362.99 L223.61,362.65 L224.82,362.38 L226.09,362.16 L227.41,362.00 L228.77,361.89 L230.14,361.81 L231.55,361.76 L232.97,361.74 L234.42,361.75 L235.91,361.78 L237.41,361.85 L238.94,361.94 L240.50,362.05 L242.12,362.17 L243.82,362.29 L245.65,362.41 L247.62,362.54 L249.72,362.67 L251.92,362.80 L254.17,362.93 L256.40,363.04 L258.56,363.14 L260.60,363.21 L262.46,363.25 L264.14,363.27 L265.66,363.26 L267.07,363.23 L268.41,363.18 L269.71,363.13 L270.98,363.06 L272.19,362.98 L273.36,362.89 L274.46,362.80 L275.51,362.70 L276.52,362.59 L277.51,362.48 L278.49,362.36 L279.46,362.24 L280.43,362.12 L281.40,362.00 L281.40,362.00 L281.48,362.76 L281.56,363.51 L281.63,364.27 L281.71,365.03 L281.77,365.81 L281.82,366.62 L281.85,367.48 L281.86,368.43 L281.84,369.47 L281.80,370.61 L281.72,371.80 L281.62,373.03 L281.48,374.27 L281.31,375.48 L281.11,376.65 L280.87,377.76 L280.61,378.81 L280.31,379.80 L280.00,380.75 L279.64,381.67 L279.26,382.55 L278.83,383.38 L278.36,384.16 L277.86,384.89 L277.32,385.55 L276.75,386.15 L276.14,386.70 L275.49,387.22 L274.80,387.70 L274.07,388.15 L273.27,388.58 L272.39,389.00 L271.41,389.39 L270.34,389.76 L269.20,390.10 L267.99,390.41 L266.74,390.69 L265.46,390.97 L264.14,391.24 L262.77,391.52 L261.35,391.79 L259.88,392.07 L258.36,392.34 L256.82,392.62 L255.27,392.90 L253.71,393.19 L252.15,393.50 L250.58,393.84 L249.01,394.20 L247.43,394.58 L245.84,394.98 L244.27,395.41 L242.72,395.85 L241.21,396.32 L239.76,396.80 L238.39,397.29 L237.11,397.78 L235.90,398.29 L234.74,398.80 L233.63,399.34 L232.54,399.90 L231.48,400.48 L230.46,401.10 L229.46,401.76 L228.49,402.44 L227.56,403.17 L226.66,403.92 L225.77,404.70 L224.90,405.50 L224.03,406.30 L223.16,407.10 L222.29,407.89 L221.41,408.68 L220.53,409.47 L219.64,410.26 L218.76,411.04 L217.89,411.82 L217.03,412.58 L216.20,413.32 L215.40,414.04 L214.65,414.73 L213.94,415.39 L213.25,416.04 L212.57,416.67 L211.88,417.27 L211.16,417.84 L210.40,418.37 L209.57,418.86 L208.68,419.31 L207.73,419.73 L206.73,420.11 L205.70,420.43 L204.64,420.68 L203.55,420.86 L202.44,420.94 L201.30,420.91 L200.13,420.77 L198.92,420.51 L197.68,420.14 L196.43,419.67 L195.17,419.12 L193.90,418.49 L192.60,417.79 L191.28,417.00 L189.91,416.10 L188.51,415.10 L187.09,414.00 L185.66,412.85 L184.21,411.66 L182.75,410.46 L181.25,409.29 L179.72,408.14 L178.15,407.03 L176.54,405.94 L174.90,404.87 L173.24,403.82 L171.56,402.79 L169.88,401.78 L168.20,400.79 L166.52,399.83 L164.85,398.89 L163.19,397.96 L161.52,397.06 L159.85,396.19 L158.19,395.37 L156.54,394.62 L154.91,393.95 L153.32,393.36 L151.77,392.87 L150.26,392.47 L148.77,392.13 L147.29,391.85 L145.85,391.63 L144.43,391.46 L143.08,391.34 L141.80,391.26 L140.60,391.22 L139.48,391.21 L138.40,391.24 L137.36,391.32 L136.33,391.43 L135.31,391.60 L134.28,391.84 L133.23,392.15 L132.15,392.54 L131.05,393.01 L129.95,393.55 L128.87,394.14 L127.83,394.74 L126.87,395.32 L126.04,395.84 L125.34,396.29 L124.80,396.65 L124.38,396.95 L124.03,397.20 L123.73,397.43 L123.43,397.67 L123.10,397.92 L122.71,398.23 L122.22,398.61 L121.61,399.07 L120.88,399.62 L120.07,400.24 L119.20,400.89 L118.31,401.55 L117.41,402.20 L116.54,402.82 L115.72,403.40 L114.93,403.93 L114.19,404.43 L113.48,404.89 L112.77,405.34 L112.06,405.77 L111.34,406.18 L110.60,406.59 L109.83,406.97 L109.03,407.33 L108.20,407.68 L107.34,408.01 L106.48,408.33 L105.62,408.67 L104.77,409.03 L103.94,409.44 L103.13,409.88 L102.35,410.38 L101.58,410.92 L100.84,411.51 L100.11,412.13 L99.41,412.79 L98.72,413.48 L98.06,414.22 L97.40,415.02 L96.76,415.88 L96.14,416.79 L95.54,417.76 L94.96,418.76 L94.40,419.78 L93.86,420.82 L93.34,421.86 L92.85,422.91 L92.39,423.96 L91.95,425.01 L91.53,426.07 L91.13,427.12 L90.72,428.13 L90.30,429.08 L89.88,429.93 L89.45,430.68 L89.02,431.32 L88.60,431.88 L88.17,432.38 L87.74,432.80 L87.31,433.16 L86.86,433.40 L86.39,433.51 L85.90,433.45 L85.37,433.18 L84.80,432.70 L84.22,432.03 L83.63,431.21 L83.05,430.31 L82.50,429.39 L81.98,428.49 L81.50,427.66 L81.06,426.90 L80.66,426.19 L80.30,425.51 L79.95,424.85 L79.61,424.22 L79.28,423.61 L78.95,423.04 L78.64,422.52 L78.33,422.06 L78.03,421.64 L77.74,421.26 L77.45,420.90 L77.16,420.55 L76.88,420.20 L76.59,419.85 L76.30,419.50" fill="none" stroke="#222" stroke-width="1.5" stroke-linejoin="round"/>
<path d="M354.4,205.3 V14.5 H542.7 V205.3 Z" fill="none" stroke="#777" stroke-width="1.1"/>
<path d="M351.4,35.3 H354.4" stroke="#666" stroke-width="1"/>
<text x="348.79999999999995" y="37.9" class="tl2">0</text>
<path d="M351.4,88.8 H354.4" stroke="#666" stroke-width="1"/>
<text x="348.79999999999995" y="91.5" class="tl2">-2</text>
<path d="M351.4,142.4 H354.4" stroke="#666" stroke-width="1"/>
<text x="348.79999999999995" y="145.0" class="tl2">-4</text>
<path d="M351.4,195.9 H354.4" stroke="#666" stroke-width="1"/>
<text x="348.79999999999995" y="198.6" class="tl2">-6</text>
<path d="M352.4,62.1 H354.4" stroke="#666" stroke-width="1"/>
<path d="M352.4,115.6 H354.4" stroke="#666" stroke-width="1"/>
<path d="M352.4,169.1 H354.4" stroke="#666" stroke-width="1"/>
<path d="M373.3,205.3 V208.3" stroke="#666" stroke-width="1"/>
<text x="373.3" y="218.5" class="tb2">0.2</text>
<path d="M410.9,205.3 V208.3" stroke="#666" stroke-width="1"/>
<text x="410.9" y="218.5" class="tb2">0.4</text>
<path d="M448.4,205.3 V208.3" stroke="#666" stroke-width="1"/>
<text x="448.4" y="218.5" class="tb2">0.6</text>
<path d="M486.0,205.3 V208.3" stroke="#666" stroke-width="1"/>
<text x="486.0" y="218.5" class="tb2">0.8</text>
<path d="M523.5,205.3 V208.3" stroke="#666" stroke-width="1"/>
<text x="523.5" y="218.5" class="tb2">1.0</text>
<path d="M392.1,205.3 V207.3" stroke="#666" stroke-width="1"/>
<path d="M429.6,205.3 V207.3" stroke="#666" stroke-width="1"/>
<path d="M467.2,205.3 V207.3" stroke="#666" stroke-width="1"/>
<path d="M504.8,205.3 V207.3" stroke="#666" stroke-width="1"/>
<text x="448" y="235" class="ttl2">Potential vs. RHE (V)</text>
<text transform="translate(329.7,104.6) rotate(-90)" class="ttl3">Current density (mA/cm<tspan dy="-4" font-size="7.8">2</tspan><tspan dy="4">)</tspan></text>
<text x="323.6" y="21.2" class="pl" textLength="18.4" lengthAdjust="spacingAndGlyphs">(b)</text>
<path d="M358.8,23.7 H377.7" stroke="#fc9020" stroke-width="2"/>
<text x="380.0" y="26.1" class="lg">Pt/KB</text>
<path d="M358.8,33.7 H377.7" stroke="#2020f8" stroke-width="2"/>
<text x="380.0" y="36.1" class="lg">Pt/KB-O</text>
<path d="M358.8,43.8 H377.7" stroke="#fa1e8e" stroke-width="2"/>
<text x="380.0" y="46.1" class="lg">Pt/KB-N</text>
<path d="M358.8,53.8 H377.7" stroke="#4a4a4a" stroke-width="2"/>
<text x="380.0" y="56.1" class="lg">Commercial Pt/C</text>
<path d="M354.50,168.90 L355.39,169.10 L356.28,169.31 L357.16,169.51 L358.05,169.71 L358.95,169.91 L359.88,170.11 L360.87,170.31 L361.96,170.52 L363.17,170.74 L364.49,170.97 L365.88,171.20 L367.32,171.42 L368.78,171.64 L370.28,171.84 L371.81,172.02 L373.42,172.19 L375.11,172.36 L376.90,172.50 L378.73,172.63 L380.59,172.74 L382.46,172.84 L384.32,172.91 L386.15,172.96 L387.92,172.98 L389.63,172.97 L391.28,172.94 L392.90,172.89 L394.51,172.82 L396.13,172.74 L397.77,172.66 L399.46,172.58 L401.24,172.50 L403.15,172.43 L405.15,172.35 L407.21,172.28 L409.30,172.20 L411.39,172.12 L413.45,172.05 L415.46,171.98 L417.37,171.90 L419.17,171.84 L420.88,171.77 L422.56,171.71 L424.20,171.65 L425.82,171.58 L427.40,171.52 L428.93,171.46 L430.36,171.41 L431.68,171.36 L432.90,171.31 L434.07,171.27 L435.21,171.23 L436.37,171.18 L437.55,171.13 L438.82,171.06 L440.23,170.99 L441.83,170.91 L443.59,170.82 L445.46,170.73 L447.37,170.62 L449.30,170.48 L451.22,170.29 L453.11,170.05 L454.95,169.76 L456.73,169.41 L458.48,169.00 L460.21,168.55 L461.92,168.05 L463.61,167.52 L465.26,166.94 L466.88,166.33 L468.45,165.68 L469.98,164.99 L471.48,164.27 L472.95,163.50 L474.39,162.71 L475.76,161.91 L477.02,161.12 L478.14,160.39 L479.04,159.76 L479.72,159.26 L480.24,158.85 L480.67,158.48 L481.05,158.12 L481.42,157.75 L481.78,157.35 L482.15,156.91 L482.55,156.40 L482.99,155.80 L483.45,155.13 L483.91,154.40 L484.36,153.63 L484.82,152.82 L485.28,151.97 L485.76,151.04 L486.29,149.98 L486.90,148.75 L487.56,147.34 L488.25,145.83 L488.94,144.26 L489.62,142.67 L490.28,141.11 L490.88,139.63 L491.41,138.29 L491.87,137.10 L492.27,136.04 L492.63,135.03 L492.97,134.05 L493.31,133.07 L493.64,132.07 L493.98,131.01 L494.34,129.86 L494.73,128.61 L495.14,127.25 L495.55,125.84 L495.97,124.40 L496.39,122.94 L496.80,121.46 L497.20,119.98 L497.60,118.48 L497.99,116.98 L498.38,115.46 L498.76,113.93 L499.14,112.39 L499.51,110.84 L499.87,109.25 L500.24,107.59 L500.62,105.83 L501.01,103.93 L501.40,101.92 L501.79,99.83 L502.18,97.70 L502.58,95.55 L502.98,93.40 L503.39,91.24 L503.81,89.10 L504.26,86.95 L504.71,84.80 L505.18,82.65 L505.66,80.50 L506.14,78.36 L506.62,76.23 L507.11,74.12 L507.59,72.05 L508.06,70.01 L508.52,68.01 L508.98,66.01 L509.45,64.04 L509.92,62.10 L510.40,60.20 L510.89,58.37 L511.37,56.66 L511.83,55.07 L512.27,53.59 L512.71,52.16 L513.17,50.77 L513.64,49.41 L514.13,48.11 L514.65,46.87 L515.18,45.70 L515.71,44.63 L516.24,43.62 L516.78,42.66 L517.34,41.74 L517.93,40.87 L518.56,40.06 L519.21,39.33 L519.90,38.69 L520.59,38.14 L521.31,37.68 L522.05,37.29 L522.81,36.94 L523.60,36.64 L524.42,36.37 L525.28,36.13 L526.19,35.92 L527.18,35.74 L528.24,35.61 L529.35,35.52 L530.48,35.47 L531.63,35.44 L532.77,35.43 L533.87,35.42 L534.94,35.40 L535.94,35.38 L536.91,35.36 L537.85,35.34 L538.79,35.33 L539.71,35.32 L540.64,35.32 L541.57,35.31 L542.50,35.30" fill="none" stroke="#fc9020" stroke-width="1.4"/>
<path d="M354.50,182.80 L355.39,183.12 L356.28,183.44 L357.16,183.76 L358.05,184.08 L358.95,184.39 L359.88,184.70 L360.87,185.01 L361.95,185.32 L363.17,185.64 L364.49,185.97 L365.88,186.28 L367.31,186.59 L368.78,186.88 L370.27,187.17 L371.81,187.44 L373.41,187.71 L375.11,187.98 L376.89,188.26 L378.73,188.52 L380.59,188.76 L382.46,188.98 L384.32,189.15 L386.15,189.28 L387.92,189.35 L389.63,189.36 L391.28,189.32 L392.90,189.24 L394.51,189.12 L396.13,188.97 L397.77,188.82 L399.46,188.66 L401.24,188.49 L403.15,188.32 L405.15,188.14 L407.22,187.95 L409.31,187.75 L411.39,187.54 L413.46,187.33 L415.46,187.12 L417.37,186.91 L419.17,186.71 L420.89,186.52 L422.56,186.33 L424.20,186.13 L425.82,185.93 L427.40,185.73 L428.93,185.52 L430.36,185.32 L431.68,185.12 L432.90,184.93 L434.07,184.75 L435.22,184.55 L436.38,184.35 L437.56,184.12 L438.82,183.85 L440.24,183.53 L441.84,183.15 L443.61,182.72 L445.48,182.24 L447.39,181.72 L449.32,181.15 L451.24,180.54 L453.13,179.87 L454.96,179.16 L456.75,178.40 L458.51,177.58 L460.25,176.72 L461.96,175.81 L463.65,174.86 L465.29,173.87 L466.90,172.84 L468.45,171.79 L469.96,170.72 L471.43,169.63 L472.86,168.50 L474.25,167.34 L475.60,166.14 L476.88,164.90 L478.09,163.60 L479.22,162.27 L480.26,160.88 L481.22,159.44 L482.11,157.95 L482.94,156.42 L483.73,154.87 L484.49,153.31 L485.25,151.76 L486.00,150.21 L486.74,148.67 L487.47,147.13 L488.19,145.58 L488.89,144.04 L489.57,142.51 L490.20,141.01 L490.79,139.58 L491.32,138.27 L491.77,137.10 L492.15,136.04 L492.50,135.03 L492.83,134.05 L493.14,133.07 L493.46,132.07 L493.79,131.01 L494.14,129.86 L494.52,128.60 L494.93,127.25 L495.35,125.84 L495.77,124.40 L496.18,122.94 L496.59,121.46 L497.00,119.98 L497.40,118.48 L497.79,116.98 L498.17,115.47 L498.54,113.95 L498.91,112.41 L499.28,110.86 L499.65,109.26 L500.03,107.59 L500.44,105.78 L500.89,103.80 L501.36,101.66 L501.84,99.42 L502.33,97.14 L502.83,94.84 L503.32,92.54 L503.81,90.28 L504.29,88.07 L504.76,85.92 L505.22,83.82 L505.68,81.74 L506.14,79.68 L506.60,77.62 L507.06,75.58 L507.53,73.54 L508.00,71.52 L508.46,69.52 L508.92,67.52 L509.39,65.53 L509.85,63.55 L510.33,61.60 L510.81,59.70 L511.29,57.87 L511.77,56.16 L512.22,54.59 L512.65,53.11 L513.09,51.69 L513.53,50.32 L513.98,48.98 L514.47,47.69 L514.97,46.45 L515.48,45.31 L515.98,44.24 L516.49,43.25 L517.00,42.30 L517.54,41.39 L518.11,40.53 L518.70,39.73 L519.34,39.01 L520.00,38.39 L520.68,37.87 L521.38,37.43 L522.10,37.06 L522.86,36.75 L523.64,36.47 L524.45,36.23 L525.29,36.01 L526.19,35.81 L527.18,35.65 L528.24,35.52 L529.35,35.43 L530.48,35.38 L531.63,35.35 L532.76,35.33 L533.87,35.32 L534.94,35.30 L535.94,35.28 L536.91,35.26 L537.85,35.24 L538.79,35.23 L539.71,35.22 L540.64,35.22 L541.57,35.21 L542.50,35.20" fill="none" stroke="#2020f8" stroke-width="1.4"/>
<path d="M354.50,185.80 L355.39,186.14 L356.28,186.49 L357.16,186.84 L358.05,187.18 L358.95,187.53 L359.88,187.86 L360.86,188.19 L361.95,188.52 L363.16,188.87 L364.48,189.22 L365.87,189.57 L367.30,189.90 L368.77,190.21 L370.27,190.49 L371.81,190.75 L373.41,190.98 L375.11,191.18 L376.89,191.35 L378.73,191.49 L380.59,191.60 L382.46,191.68 L384.32,191.73 L386.15,191.77 L387.92,191.78 L389.63,191.78 L391.28,191.74 L392.90,191.69 L394.51,191.62 L396.13,191.54 L397.77,191.46 L399.46,191.38 L401.24,191.30 L403.15,191.23 L405.15,191.16 L407.22,191.09 L409.30,191.02 L411.39,190.95 L413.46,190.87 L415.46,190.79 L417.37,190.70 L419.17,190.61 L420.88,190.52 L422.56,190.42 L424.20,190.32 L425.82,190.22 L427.40,190.12 L428.93,190.01 L430.36,189.91 L431.68,189.82 L432.90,189.73 L434.07,189.65 L435.22,189.57 L436.37,189.47 L437.55,189.36 L438.82,189.23 L440.23,189.07 L441.83,188.87 L443.60,188.65 L445.47,188.40 L447.38,188.12 L449.31,187.80 L451.23,187.44 L453.12,187.03 L454.95,186.56 L456.74,186.05 L458.50,185.49 L460.23,184.89 L461.95,184.24 L463.63,183.54 L465.28,182.80 L466.89,182.01 L468.44,181.18 L469.94,180.31 L471.39,179.41 L472.80,178.46 L474.18,177.47 L475.52,176.43 L476.81,175.35 L478.06,174.23 L479.26,173.07 L480.42,171.87 L481.53,170.62 L482.60,169.34 L483.62,168.01 L484.60,166.64 L485.54,165.22 L486.43,163.75 L487.29,162.20 L488.11,160.55 L488.90,158.82 L489.63,157.02 L490.31,155.17 L490.95,153.29 L491.56,151.37 L492.13,149.42 L492.68,147.41 L493.20,145.33 L493.68,143.17 L494.12,140.97 L494.53,138.74 L494.92,136.51 L495.31,134.31 L495.70,132.18 L496.09,130.14 L496.48,128.21 L496.87,126.37 L497.26,124.58 L497.64,122.81 L498.03,121.07 L498.42,119.36 L498.81,117.70 L499.18,116.12 L499.54,114.63 L499.90,113.23 L500.25,111.88 L500.60,110.54 L500.96,109.20 L501.31,107.83 L501.66,106.38 L502.03,104.80 L502.41,103.06 L502.81,101.19 L503.21,99.22 L503.61,97.21 L504.00,95.18 L504.40,93.12 L504.80,91.05 L505.21,88.95 L505.63,86.82 L506.05,84.64 L506.47,82.45 L506.90,80.24 L507.32,78.04 L507.75,75.84 L508.17,73.68 L508.59,71.56 L508.99,69.49 L509.39,67.46 L509.78,65.44 L510.17,63.45 L510.56,61.48 L510.97,59.56 L511.37,57.70 L511.77,55.95 L512.15,54.32 L512.51,52.78 L512.87,51.29 L513.24,49.84 L513.63,48.43 L514.05,47.08 L514.51,45.80 L514.98,44.63 L515.47,43.56 L515.96,42.58 L516.47,41.66 L517.01,40.78 L517.58,39.95 L518.19,39.18 L518.83,38.49 L519.51,37.88 L520.22,37.36 L520.96,36.92 L521.74,36.55 L522.55,36.23 L523.38,35.95 L524.24,35.71 L525.14,35.50 L526.08,35.32 L527.10,35.17 L528.18,35.07 L529.30,35.00 L530.45,34.98 L531.60,34.98 L532.75,34.99 L533.87,34.99 L534.93,34.99 L535.94,34.99 L536.91,34.99 L537.86,34.98 L538.79,34.99 L539.72,34.99 L540.64,34.99 L541.57,35.00 L542.50,35.00" fill="none" stroke="#fa1e8e" stroke-width="1.4"/>
<path d="M354.50,164.80 L355.39,165.19 L356.27,165.58 L357.16,165.97 L358.04,166.36 L358.94,166.74 L359.87,167.11 L360.86,167.46 L361.95,167.81 L363.16,168.16 L364.48,168.50 L365.87,168.82 L367.30,169.12 L368.77,169.40 L370.27,169.65 L371.81,169.88 L373.41,170.09 L375.11,170.28 L376.89,170.45 L378.73,170.59 L380.59,170.70 L382.46,170.79 L384.32,170.84 L386.15,170.87 L387.92,170.88 L389.63,170.85 L391.28,170.80 L392.90,170.72 L394.51,170.61 L396.13,170.50 L397.77,170.37 L399.46,170.23 L401.24,170.09 L403.15,169.93 L405.15,169.76 L407.22,169.58 L409.30,169.38 L411.39,169.19 L413.46,168.99 L415.46,168.80 L417.37,168.61 L419.17,168.44 L420.88,168.27 L422.56,168.10 L424.20,167.94 L425.82,167.78 L427.40,167.62 L428.93,167.46 L430.36,167.32 L431.68,167.20 L432.90,167.09 L434.07,167.00 L435.22,166.90 L436.38,166.79 L437.56,166.65 L438.82,166.47 L440.24,166.23 L441.84,165.92 L443.61,165.54 L445.48,165.11 L447.39,164.63 L449.32,164.11 L451.24,163.54 L453.12,162.93 L454.96,162.27 L456.75,161.58 L458.51,160.86 L460.25,160.09 L461.96,159.27 L463.65,158.42 L465.29,157.51 L466.90,156.56 L468.45,155.57 L469.96,154.53 L471.42,153.44 L472.85,152.30 L474.23,151.13 L475.57,149.92 L476.86,148.69 L478.07,147.46 L479.20,146.24 L480.24,145.05 L481.19,143.85 L482.08,142.66 L482.93,141.45 L483.74,140.24 L484.52,139.05 L485.25,137.89 L485.93,136.81 L486.54,135.81 L487.11,134.87 L487.64,133.97 L488.14,133.08 L488.63,132.19 L489.09,131.30 L489.55,130.40 L489.99,129.50 L490.41,128.59 L490.81,127.68 L491.19,126.76 L491.57,125.84 L491.93,124.91 L492.29,123.95 L492.65,122.96 L493.03,121.90 L493.42,120.75 L493.82,119.54 L494.23,118.27 L494.63,116.99 L495.03,115.69 L495.43,114.39 L495.81,113.10 L496.19,111.83 L496.55,110.59 L496.91,109.37 L497.25,108.17 L497.60,106.96 L497.94,105.74 L498.29,104.51 L498.65,103.24 L499.03,101.90 L499.45,100.49 L499.88,99.01 L500.33,97.49 L500.79,95.95 L501.24,94.38 L501.70,92.77 L502.16,91.11 L502.62,89.33 L503.10,87.41 L503.58,85.38 L504.07,83.26 L504.55,81.11 L505.03,78.94 L505.52,76.78 L506.00,74.64 L506.49,72.56 L506.98,70.52 L507.46,68.50 L507.95,66.51 L508.43,64.54 L508.93,62.59 L509.44,60.69 L509.96,58.87 L510.47,57.16 L510.96,55.58 L511.44,54.11 L511.92,52.69 L512.42,51.31 L512.93,49.98 L513.46,48.69 L514.01,47.45 L514.58,46.30 L515.14,45.24 L515.69,44.24 L516.26,43.28 L516.85,42.37 L517.47,41.50 L518.11,40.68 L518.79,39.94 L519.50,39.28 L520.23,38.69 L520.98,38.18 L521.76,37.73 L522.56,37.33 L523.39,36.97 L524.25,36.66 L525.14,36.37 L526.08,36.13 L527.09,35.92 L528.17,35.77 L529.29,35.66 L530.44,35.60 L531.60,35.56 L532.75,35.54 L533.86,35.52 L534.93,35.50 L535.94,35.47 L536.91,35.45 L537.85,35.44 L538.79,35.43 L539.72,35.42 L540.64,35.41 L541.57,35.41 L542.50,35.40" fill="none" stroke="#4a4a4a" stroke-width="1.4"/>
<path d="M354.8,440.6 V249.5 H543.0 V440.6 Z" fill="none" stroke="#777" stroke-width="1.1"/>
<path d="M351.8,270.3 H354.8" stroke="#666" stroke-width="1"/>
<text x="349.2" y="272.9" class="tl2">0</text>
<path d="M351.8,323.8 H354.8" stroke="#666" stroke-width="1"/>
<text x="349.2" y="326.4" class="tl2">-2</text>
<path d="M351.8,377.3 H354.8" stroke="#666" stroke-width="1"/>
<text x="349.2" y="379.9" class="tl2">-4</text>
<path d="M351.8,430.8 H354.8" stroke="#666" stroke-width="1"/>
<text x="349.2" y="433.4" class="tl2">-6</text>
<path d="M352.8,297.1 H354.8" stroke="#666" stroke-width="1"/>
<path d="M352.8,350.6 H354.8" stroke="#666" stroke-width="1"/>
<path d="M352.8,404.1 H354.8" stroke="#666" stroke-width="1"/>
<path d="M373.6,440.6 V443.6" stroke="#666" stroke-width="1"/>
<text x="373.6" y="453.9" class="tb2">0.2</text>
<path d="M411.2,440.6 V443.6" stroke="#666" stroke-width="1"/>
<text x="411.2" y="453.9" class="tb2">0.4</text>
<path d="M448.8,440.6 V443.6" stroke="#666" stroke-width="1"/>
<text x="448.8" y="453.9" class="tb2">0.6</text>
<path d="M486.4,440.6 V443.6" stroke="#666" stroke-width="1"/>
<text x="486.4" y="453.9" class="tb2">0.8</text>
<path d="M524.0,440.6 V443.6" stroke="#666" stroke-width="1"/>
<text x="524.0" y="453.9" class="tb2">1.0</text>
<path d="M392.4,440.6 V442.6" stroke="#666" stroke-width="1"/>
<path d="M430.0,440.6 V442.6" stroke="#666" stroke-width="1"/>
<path d="M467.6,440.6 V442.6" stroke="#666" stroke-width="1"/>
<path d="M505.2,440.6 V442.6" stroke="#666" stroke-width="1"/>
<text x="448" y="470.6" class="ttl2">Potential vs. RHE (V)</text>
<text transform="translate(329.7,340) rotate(-90)" class="ttl3">Current density (mA/cm<tspan dy="-4" font-size="7.8">2</tspan><tspan dy="4">)</tspan></text>
<text x="320.9" y="252.7" class="pl" textLength="16.5" lengthAdjust="spacingAndGlyphs">(c)</text>
<path d="M360,258.2 H378.9" stroke="#fc9020" stroke-width="2"/>
<text x="380.6" y="260.6" class="lg">Pt/KB-10x</text>
<path d="M360,268.1 H378.9" stroke="#2020f8" stroke-width="2"/>
<text x="380.6" y="270.5" class="lg">Pt/KB-O-10x</text>
<path d="M360,278.1 H378.9" stroke="#fa1e8e" stroke-width="2"/>
<text x="380.6" y="280.4" class="lg">Pt/KB-N-10x</text>
<path d="M354.90,416.60 L355.74,416.83 L356.58,417.06 L357.41,417.28 L358.25,417.51 L359.10,417.74 L359.98,417.96 L360.92,418.19 L361.97,418.43 L363.15,418.68 L364.46,418.95 L365.83,419.21 L367.26,419.47 L368.73,419.73 L370.23,419.96 L371.80,420.19 L373.48,420.40 L375.29,420.61 L377.24,420.80 L379.26,420.97 L381.33,421.13 L383.41,421.26 L385.49,421.36 L387.54,421.43 L389.52,421.47 L391.45,421.48 L393.32,421.45 L395.16,421.39 L397.00,421.31 L398.84,421.21 L400.68,421.11 L402.55,421.00 L404.47,420.90 L406.45,420.78 L408.48,420.67 L410.54,420.54 L412.61,420.41 L414.67,420.28 L416.70,420.15 L418.68,420.02 L420.56,419.91 L422.31,419.81 L423.97,419.71 L425.57,419.62 L427.15,419.53 L428.75,419.44 L430.40,419.36 L432.16,419.28 L434.15,419.22 L436.43,419.17 L438.96,419.16 L441.65,419.16 L444.40,419.15 L447.16,419.11 L449.84,419.01 L452.39,418.82 L454.70,418.56 L456.75,418.23 L458.61,417.84 L460.36,417.41 L462.06,416.92 L463.71,416.40 L465.33,415.83 L466.91,415.22 L468.45,414.60 L469.94,413.96 L471.40,413.30 L472.83,412.61 L474.22,411.89 L475.57,411.12 L476.87,410.29 L478.09,409.41 L479.22,408.46 L480.27,407.46 L481.24,406.39 L482.14,405.28 L482.98,404.11 L483.78,402.89 L484.54,401.65 L485.28,400.37 L485.99,399.03 L486.68,397.64 L487.34,396.18 L487.96,394.68 L488.55,393.14 L489.11,391.60 L489.65,390.05 L490.17,388.54 L490.68,387.06 L491.17,385.64 L491.63,384.26 L492.08,382.89 L492.52,381.53 L492.94,380.18 L493.34,378.85 L493.72,377.54 L494.07,376.26 L494.39,375.04 L494.69,373.85 L494.97,372.69 L495.23,371.53 L495.49,370.39 L495.73,369.25 L495.96,368.14 L496.18,367.06 L496.39,366.03 L496.58,365.05 L496.75,364.09 L496.92,363.13 L497.10,362.15 L497.29,361.10 L497.51,359.91 L497.80,358.40 L498.19,356.49 L498.65,354.20 L499.17,351.66 L499.72,348.99 L500.29,346.27 L500.87,343.59 L501.43,341.03 L501.95,338.66 L502.44,336.53 L502.91,334.57 L503.36,332.70 L503.81,330.86 L504.26,329.04 L504.71,327.21 L505.16,325.34 L505.61,323.41 L506.06,321.41 L506.52,319.35 L506.98,317.26 L507.44,315.15 L507.90,313.04 L508.36,310.95 L508.83,308.88 L509.29,306.87 L509.75,304.92 L510.21,303.02 L510.67,301.14 L511.13,299.28 L511.60,297.43 L512.09,295.58 L512.59,293.73 L513.10,291.87 L513.62,289.98 L514.14,288.06 L514.67,286.13 L515.22,284.21 L515.80,282.36 L516.42,280.61 L517.08,279.03 L517.74,277.67 L518.38,276.55 L519.01,275.61 L519.66,274.76 L520.32,273.99 L521.01,273.28 L521.72,272.64 L522.45,272.07 L523.18,271.58 L523.90,271.18 L524.63,270.85 L525.38,270.59 L526.13,270.37 L526.90,270.20 L527.67,270.05 L528.43,269.92 L529.18,269.82 L529.91,269.74 L530.63,269.69 L531.34,269.66 L532.06,269.66 L532.78,269.67 L533.51,269.68 L534.27,269.69 L535.07,269.70 L535.92,269.69 L536.82,269.69 L537.75,269.69 L538.70,269.69 L539.65,269.69 L540.60,269.70 L541.55,269.70 L542.50,269.70" fill="none" stroke="#fc9020" stroke-width="1.4"/>
<path d="M354.90,406.50 L355.74,406.80 L356.58,407.10 L357.41,407.40 L358.24,407.70 L359.10,408.00 L359.98,408.30 L360.92,408.61 L361.97,408.94 L363.15,409.30 L364.45,409.69 L365.83,410.08 L367.26,410.48 L368.72,410.86 L370.23,411.22 L371.80,411.57 L373.47,411.91 L375.29,412.24 L377.23,412.56 L379.25,412.86 L381.32,413.13 L383.41,413.36 L385.49,413.55 L387.53,413.68 L389.52,413.75 L391.45,413.76 L393.32,413.71 L395.16,413.61 L397.00,413.47 L398.84,413.29 L400.68,413.10 L402.55,412.90 L404.47,412.69 L406.45,412.46 L408.48,412.21 L410.54,411.95 L412.61,411.67 L414.67,411.38 L416.70,411.09 L418.68,410.80 L420.56,410.52 L422.31,410.26 L423.97,410.00 L425.57,409.76 L427.16,409.50 L428.75,409.25 L430.40,408.97 L432.16,408.68 L434.15,408.35 L436.43,407.99 L438.97,407.60 L441.66,407.18 L444.42,406.74 L447.17,406.26 L449.86,405.72 L452.40,405.14 L454.71,404.51 L456.77,403.87 L458.64,403.21 L460.40,402.52 L462.10,401.79 L463.75,401.02 L465.36,400.19 L466.93,399.30 L468.47,398.36 L469.96,397.36 L471.42,396.30 L472.84,395.19 L474.22,394.03 L475.55,392.82 L476.84,391.57 L478.07,390.29 L479.24,388.98 L480.35,387.65 L481.39,386.28 L482.37,384.87 L483.31,383.43 L484.22,381.97 L485.10,380.49 L485.95,378.99 L486.79,377.48 L487.62,375.94 L488.42,374.38 L489.20,372.79 L489.96,371.20 L490.69,369.61 L491.38,368.05 L492.03,366.55 L492.62,365.16 L493.15,363.90 L493.61,362.74 L494.04,361.63 L494.45,360.55 L494.84,359.45 L495.23,358.33 L495.63,357.13 L496.04,355.81 L496.47,354.34 L496.92,352.73 L497.37,351.04 L497.81,349.30 L498.25,347.54 L498.70,345.76 L499.15,343.97 L499.62,342.18 L500.09,340.37 L500.58,338.55 L501.08,336.72 L501.57,334.88 L502.08,333.02 L502.58,331.13 L503.10,329.19 L503.63,327.15 L504.19,325.00 L504.76,322.74 L505.35,320.42 L505.94,318.07 L506.53,315.70 L507.12,313.33 L507.71,310.96 L508.30,308.60 L508.88,306.23 L509.46,303.84 L510.04,301.45 L510.62,299.07 L511.20,296.72 L511.79,294.43 L512.38,292.24 L512.95,290.22 L513.48,288.37 L513.98,286.64 L514.46,285.00 L514.96,283.40 L515.49,281.87 L516.05,280.42 L516.65,279.07 L517.27,277.87 L517.90,276.82 L518.53,275.89 L519.17,275.02 L519.85,274.22 L520.55,273.48 L521.28,272.80 L522.03,272.20 L522.79,271.68 L523.55,271.26 L524.33,270.91 L525.12,270.63 L525.93,270.40 L526.75,270.22 L527.57,270.06 L528.38,269.93 L529.16,269.82 L529.91,269.74 L530.64,269.69 L531.35,269.66 L532.07,269.66 L532.79,269.67 L533.51,269.68 L534.27,269.69 L535.07,269.69 L535.92,269.69 L536.82,269.69 L537.75,269.69 L538.70,269.69 L539.65,269.69 L540.60,269.70 L541.55,269.70 L542.50,269.70" fill="none" stroke="#2020f8" stroke-width="1.4"/>
<path d="M354.90,413.30 L355.74,413.58 L356.58,413.86 L357.41,414.15 L358.24,414.43 L359.09,414.71 L359.97,414.98 L360.92,415.25 L361.97,415.52 L363.15,415.81 L364.45,416.10 L365.83,416.38 L367.26,416.65 L368.73,416.91 L370.23,417.16 L371.80,417.38 L373.48,417.60 L375.29,417.81 L377.24,418.00 L379.26,418.18 L381.33,418.33 L383.41,418.46 L385.49,418.56 L387.54,418.63 L389.52,418.68 L391.45,418.69 L393.32,418.67 L395.16,418.63 L397.00,418.57 L398.84,418.49 L400.68,418.39 L402.55,418.30 L404.47,418.19 L406.45,418.08 L408.48,417.96 L410.54,417.84 L412.61,417.70 L414.67,417.55 L416.70,417.40 L418.68,417.25 L420.56,417.11 L422.31,416.96 L423.97,416.82 L425.57,416.68 L427.15,416.53 L428.75,416.38 L430.40,416.22 L432.16,416.06 L434.15,415.88 L436.43,415.70 L438.96,415.51 L441.65,415.32 L444.40,415.11 L447.15,414.88 L449.84,414.60 L452.39,414.27 L454.70,413.90 L456.75,413.51 L458.61,413.10 L460.37,412.67 L462.07,412.20 L463.72,411.69 L465.34,411.14 L466.91,410.53 L468.45,409.87 L469.95,409.17 L471.40,408.42 L472.83,407.63 L474.22,406.79 L475.56,405.91 L476.85,405.00 L478.07,404.07 L479.21,403.12 L480.25,402.17 L481.22,401.21 L482.13,400.23 L482.99,399.23 L483.81,398.20 L484.58,397.15 L485.29,396.08 L485.94,395.00 L486.52,393.92 L487.04,392.82 L487.50,391.70 L487.92,390.57 L488.32,389.43 L488.71,388.28 L489.11,387.14 L489.51,386.01 L489.93,384.88 L490.36,383.76 L490.79,382.63 L491.22,381.51 L491.64,380.39 L492.04,379.26 L492.42,378.13 L492.78,377.01 L493.10,375.88 L493.41,374.76 L493.69,373.64 L493.96,372.51 L494.22,371.38 L494.48,370.26 L494.74,369.13 L495.00,368.01 L495.27,366.91 L495.53,365.82 L495.80,364.75 L496.06,363.66 L496.33,362.55 L496.61,361.37 L496.93,360.05 L497.30,358.44 L497.75,356.46 L498.27,354.14 L498.84,351.59 L499.43,348.93 L500.03,346.23 L500.62,343.56 L501.20,341.01 L501.75,338.66 L502.26,336.53 L502.74,334.57 L503.21,332.70 L503.67,330.86 L504.13,329.04 L504.59,327.21 L505.05,325.34 L505.51,323.42 L505.97,321.41 L506.43,319.35 L506.89,317.26 L507.34,315.15 L507.80,313.04 L508.26,310.95 L508.73,308.88 L509.19,306.87 L509.65,304.92 L510.11,303.02 L510.56,301.14 L511.03,299.28 L511.50,297.43 L511.99,295.58 L512.49,293.73 L513.01,291.87 L513.53,289.98 L514.06,288.06 L514.61,286.13 L515.17,284.21 L515.76,282.36 L516.40,280.61 L517.06,279.03 L517.73,277.67 L518.38,276.55 L519.02,275.61 L519.66,274.77 L520.32,273.99 L521.01,273.28 L521.72,272.64 L522.45,272.07 L523.18,271.58 L523.90,271.18 L524.63,270.85 L525.38,270.59 L526.13,270.37 L526.90,270.20 L527.67,270.05 L528.43,269.92 L529.18,269.82 L529.91,269.74 L530.63,269.69 L531.34,269.66 L532.06,269.66 L532.78,269.67 L533.51,269.68 L534.27,269.69 L535.07,269.70 L535.92,269.69 L536.82,269.69 L537.75,269.69 L538.70,269.69 L539.65,269.69 L540.60,269.70 L541.55,269.70 L542.50,269.70" fill="none" stroke="#fa1e8e" stroke-width="1.4"/>
</svg></body></html>
